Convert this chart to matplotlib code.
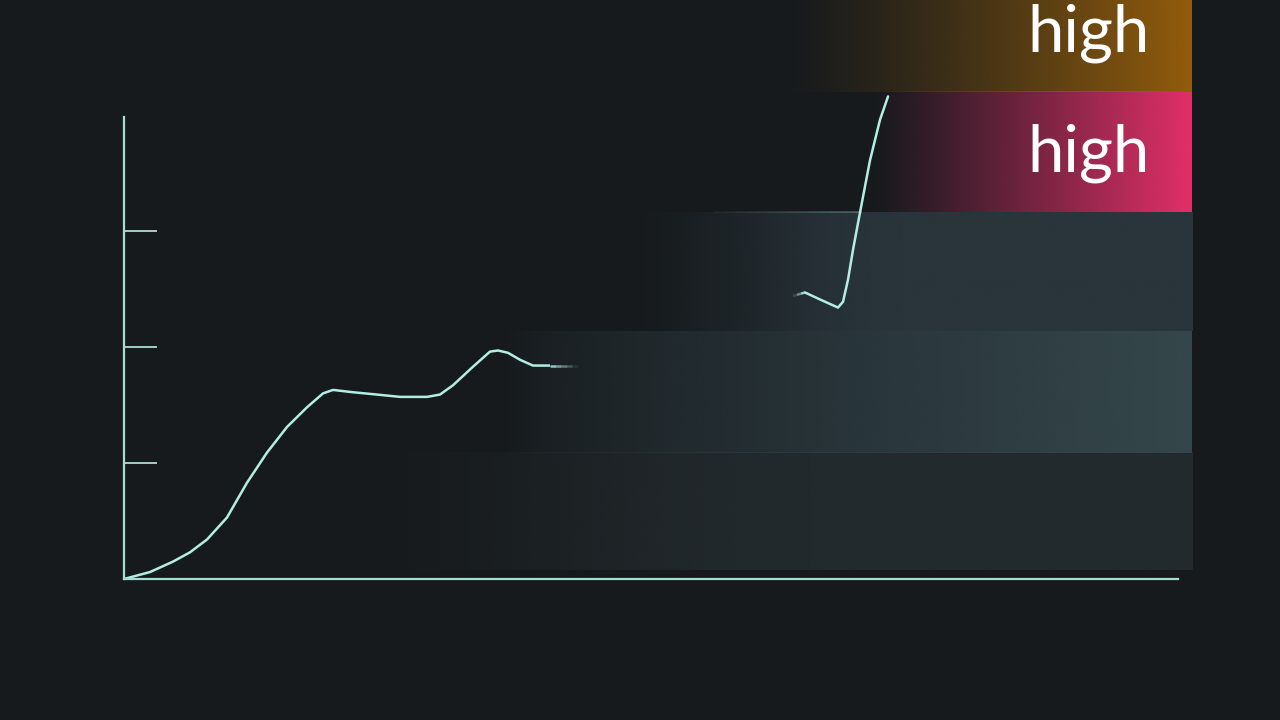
import numpy as np
import matplotlib
matplotlib.use("Agg")
import matplotlib.pyplot as plt
from matplotlib.collections import LineCollection

# curve (x in 0..100 along the axis, y in tick units)
rise_x = [0, 2.47, 4.65, 6.26, 7.87, 9.77, 11.67, 13.57, 15.46, 17.36, 18.88,
          19.83, 21.73, 24.0, 26.19, 28.75, 29.98, 31.21, 33.11, 34.72, 35.48,
          36.43, 37.57, 38.8, 40.42, 43.07]
rise_y = [0, 0.06, 0.15, 0.23, 0.34, 0.53, 0.83, 1.09, 1.31, 1.48, 1.6,
          1.63, 1.61, 1.59, 1.57, 1.57, 1.59, 1.67, 1.83, 1.96, 1.97,
          1.95, 1.89, 1.84, 1.84, 1.84]
spike_x = [63.47, 64.61, 66.03, 67.74, 68.22, 68.69, 69.17, 69.83, 70.78, 71.73, 72.49]
spike_y = [2.44, 2.47, 2.41, 2.34, 2.39, 2.58, 2.84, 3.16, 3.61, 3.96, 4.16]

y_ticks = [1, 2, 3]

# horizontal bands (bottom -> top)
band_edges = [0.08, 1.09, 2.14, 3.16, 4.2, 5.0]
band_colors = ["#232a2d", "#35474c", "#29353b", "#e3306a", "#935d0c"]
band_starts = [20, 36, 46, 71, 62]
band_ramp = [0.55, 1.0, 0.5, 1.0, 1.0]     # share of the band used for the fade-in
band_gamma = [1.0, 0.75, 1.0, 1.1, 1.3]
band_labels = ["", "", "", "high", "high"]

BG = "#161a1d"
LINE = "#b2eee4"
AXIS = "#a9ddd3"

fig = plt.figure(figsize=(12.8, 7.2), dpi=100, facecolor=BG)
ax = fig.add_axes([0, 0, 1, 1])
ax.set_facecolor(BG)
ax.set_xlim(-124 / 10.54, 1156 / 10.54)
ax.set_ylim(-141 / 116, 579 / 116)

# gradient bands
x_end = 101.33
for i in range(len(band_colors)):
    rgb = matplotlib.colors.to_rgb(band_colors[i])
    t = np.clip(np.linspace(0, 1, 512) / band_ramp[i], 0, 1)
    a = (3 * t ** 2 - 2 * t ** 3) if band_ramp[i] < 1 else t ** band_gamma[i]
    img = np.zeros((1, 512, 4))
    img[0, :, :3] = rgb
    img[0, :, 3] = a
    ax.imshow(img, extent=[band_starts[i], x_end, band_edges[i], band_edges[i + 1]],
              aspect="auto", interpolation="bicubic", zorder=1)
    if band_labels[i]:
        ax.text(97.3, band_edges[i] + 0.35, band_labels[i], color="white",
                fontsize=47, family=["Lato", "DejaVu Sans"], ha="right",
                va="baseline", zorder=4)

# faint edge on top of the grey band
edge = LineCollection([[(56 + k, band_edges[3]), (57 + k, band_edges[3])] for k in range(14)],
                      colors=[(0.6, 0.8, 0.78, 0.05 + 0.025 * k) for k in range(14)],
                      linewidths=1.2, zorder=2)
ax.add_collection(edge)

# axes
for side in ["top", "right"]:
    ax.spines[side].set_visible(False)
ax.spines["left"].set_position(("data", 0))
ax.spines["bottom"].set_position(("data", 0))
ax.spines["left"].set_bounds(0, 3.98)
ax.spines["bottom"].set_bounds(0, 100)
for side in ["left", "bottom"]:
    ax.spines[side].set_color(AXIS)
    ax.spines[side].set_linewidth(1.6)
    ax.spines[side].set_zorder(5)
ax.set_yticks(y_ticks)
ax.set_yticklabels([])
ax.tick_params(axis="y", direction="in", length=23.8, width=1.3, color=AXIS)
ax.set_xticks([])

# curve: solid body, faded ends
ax.plot(rise_x[:-1], rise_y[:-1], color=LINE, lw=1.8,
        solid_joinstyle="round", solid_capstyle="butt", zorder=3)
ax.plot(spike_x[1:], spike_y[1:], color=LINE, lw=1.8,
        solid_joinstyle="round", solid_capstyle="round", zorder=3)


def fade(xs, ys, a0, a1, n=5):
    segs, cols = [], []
    for k in range(n):
        f0, f1 = k / n, (k + 1) / n
        segs.append([(xs[0] + (xs[1] - xs[0]) * f0, ys[0] + (ys[1] - ys[0]) * f0),
                     (xs[0] + (xs[1] - xs[0]) * f1, ys[0] + (ys[1] - ys[0]) * f1)])
        cols.append(matplotlib.colors.to_rgba(LINE, a0 + (a1 - a0) * (k + 0.5) / n))
    ax.add_collection(LineCollection(segs, colors=cols, linewidths=1.8,
                                     capstyle="butt", zorder=3))


fade(rise_x[-2:], rise_y[-2:], 0.9, 0.0)
fade(spike_x[:2], spike_y[:2], 0.0, 1.0, n=3)

fig.savefig("out.png", dpi=100, facecolor=BG)
